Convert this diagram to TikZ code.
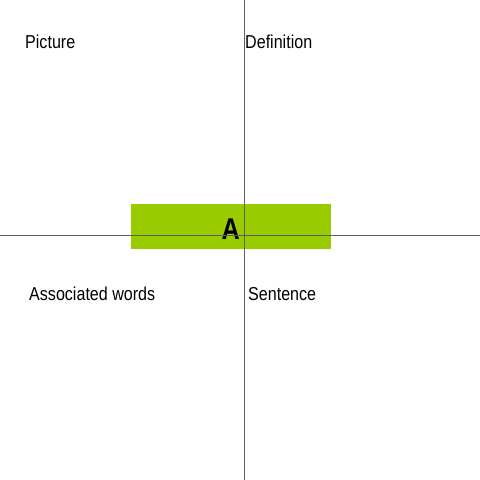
\documentclass[tikz,border=0pt]{standalone}
\usepackage{fontspec}
\setmainfont{Liberation Sans}
\definecolor{boxgreen}{RGB}{153,204,0}
\definecolor{axisgray}{RGB}{95,95,95}
\begin{document}
\begin{tikzpicture}[x=1pt,y=-1pt,
  lbl/.style={anchor=base west,inner sep=0pt,font=\fontsize{18.7}{20}\selectfont},
  axis/.style={draw=axisgray,line width=1pt}]
\useasboundingbox[fill=white] (0,0) rectangle (480,480);
\fill[boxgreen] (130.7,204.3) rectangle (330.7,249);
\node[anchor=base west,inner sep=0pt,font=\fontsize{30}{32}\selectfont\bfseries] (a) at (221.5,239.3) {\scalebox{0.84}[1]{A}};
\coordinate (top) at (244,0);
\coordinate (bottom) at (244,480);
\coordinate (left) at (0,235);
\coordinate (right) at (480,235);
\draw[axis] (top) -- (bottom);
\draw[axis] (left) -- (right);
\node[lbl] (picture) at (25,48.7) {\scalebox{0.86}[1]{Picture}};
\node[lbl] (definition) at (245,48.7) {\scalebox{0.86}[1]{Definition}};
\node[lbl] (assoc) at (29,300.6) {\scalebox{0.86}[1]{Associated words}};
\node[lbl] (sentence) at (248,300.6) {\scalebox{0.86}[1]{Sentence}};
\end{tikzpicture}
\end{document}
